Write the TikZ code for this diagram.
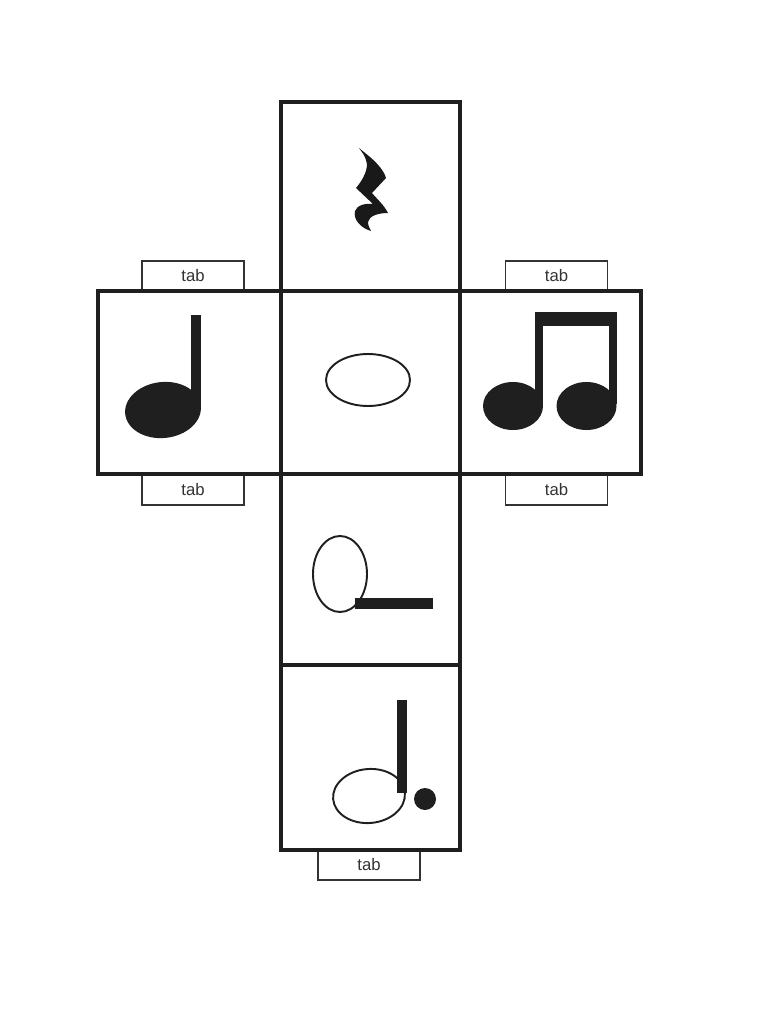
\documentclass[tikz,border=0pt]{standalone}
\usepackage{fontspec}
\setmainfont{Liberation Sans}

\begin{document}
\begin{tikzpicture}[x=0.02cm,y=-0.02cm,
  face/.style={draw=black!88,line width=2.8pt},
  tabbox/.style={draw=black!80,line width=0.8pt,minimum width=2.04cm,minimum height=0.6cm,inner sep=0pt,font=\fontsize{9.5}{11}\selectfont,text=black!80},
  head/.style={draw=black!88,line width=1.1pt}]
\useasboundingbox (0,0) rectangle (768,1024);
% tabs
\node[tabbox] (tabtl) at (193,276) {tab};
\node[tabbox] (tabtr) at (556.5,276) {tab};
\node[tabbox] (tabbl) at (193,490) {tab};
\node[tabbox] (tabbr) at (556.5,490) {tab};
\node[tabbox] (tabbot) at (369,865) {tab};
% faces of the net
\foreach \a/\b/\c/\d in {281/102/460/291, 98/291/281/474, 281/291/460/474, 460/291/641/474, 281/474/460/665, 281/665/460/850}
  \draw[face] (\a,\b) rectangle (\c,\d);
% quarter rest
\fill[black!90] (359,148) -- (370,157) .. controls (378,164) and (384,171) .. (386,178) -- (372,193)
  .. controls (377,199) and (384,205) .. (388,213) .. controls (378,213) and (369,216) .. (368,222)
  .. controls (368,226) and (370,229) .. (371,231) .. controls (361,228) and (353,220) .. (355,211)
  .. controls (357,205) and (366,203) .. (373,204) -- (356,188)
  .. controls (362,181) and (367,172) .. (367,164) .. controls (366,157) and (362,152) .. (359,148) -- cycle;
% quarter note
\fill[black!88,rotate around={6:(163,410)}] (163,410) ellipse [x radius=38, y radius=28];
\fill[black!88] (191,315) rectangle (201,410);
% whole note
\draw[head] (368,380) ellipse [x radius=42, y radius=26];
% eighth notes
\foreach \x/\s in {513/535, 586.5/608.5} {
  \fill[black!88] (\x,406) ellipse [x radius=30, y radius=24];
  \fill[black!88] (\s,313) rectangle (\s+8,404);
}
\fill[black!88] (535,312) rectangle (617,326);
% half note on its side
\draw[head] (340,574) ellipse [x radius=27, y radius=38];
\fill[black!88] (355,598) rectangle (433,609);
% dotted half note
\draw[head,rotate around={5:(369,796)}] (369,796) ellipse [x radius=36, y radius=27];
\fill[black!88] (397,700) rectangle (407,793);
\fill[black!88] (425,799) circle (11);
\end{tikzpicture}
\end{document}
